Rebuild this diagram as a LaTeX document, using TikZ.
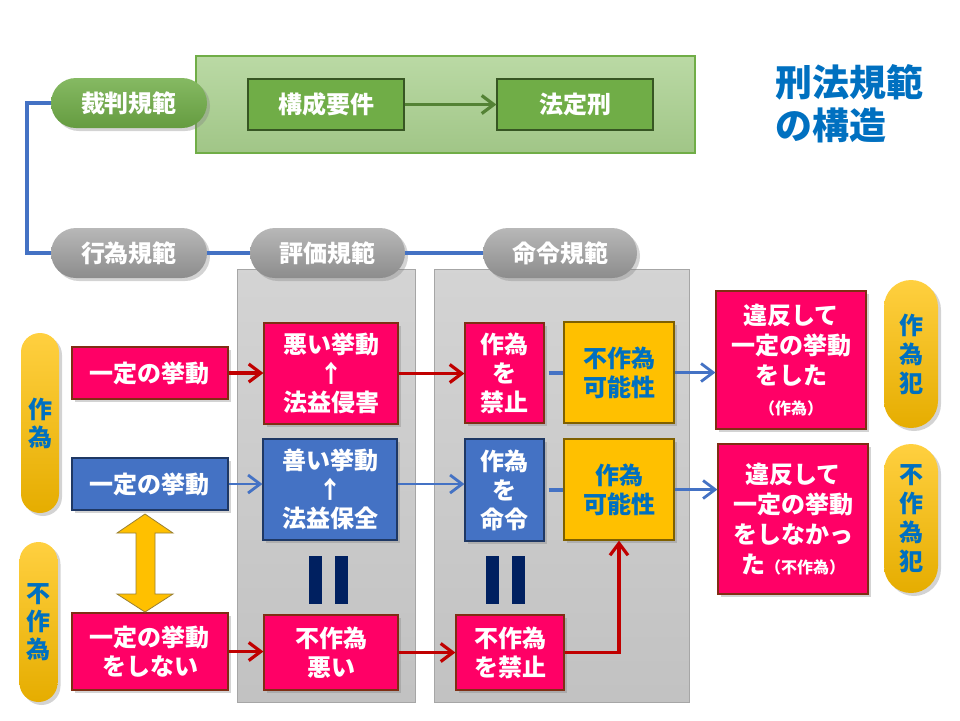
\documentclass[tikz,border=0pt]{standalone}
\usepackage{fontspec}
\setmainfont{Noto Sans CJK JP}
\usepackage{xcolor}
\usepackage{tikz}
\usetikzlibrary{arrows.meta,shadows}

\definecolor{hotpink}{HTML}{FF0066}
\definecolor{pinkedge}{HTML}{7F2E14}
\definecolor{boxblue}{HTML}{4472C4}
\definecolor{blueedge}{HTML}{1F3864}
\definecolor{gold}{HTML}{FFC000}
\definecolor{goldedge}{HTML}{7F6000}
\definecolor{textblue}{HTML}{0070C0}
\definecolor{arrowred}{HTML}{C00000}
\definecolor{navybar}{HTML}{002060}
\definecolor{panelgreen}{HTML}{A9D08E}
\definecolor{paneledge}{HTML}{70AD47}
\definecolor{boxgreen}{HTML}{70AD47}
\definecolor{greenedge}{HTML}{375623}
\definecolor{arrowgreen}{HTML}{548235}

\tikzset{
    wh/.style 2 args={minimum width=#1*0.5pt, minimum height=#2*0.5pt},
    shadowed/.style={drop shadow={opacity=0.35,shadow xshift=1.5pt,shadow yshift=-1.5pt}},
    plainbox/.style={shadowed, line width=0.6pt, align=center, inner sep=0pt},
    redbox/.style={plainbox, fill=hotpink, draw=pinkedge, text=white},
    bluebox/.style={plainbox, fill=boxblue, draw=blueedge, text=white},
    goldbox/.style={plainbox, fill=gold, draw=goldedge, text=textblue},
    greenbox/.style={align=center, inner sep=0pt, fill=boxgreen, draw=greenedge, line width=0.6pt, text=white},
    graypill/.style={shadowed, rounded corners=12.5pt, top color=black!28, bottom color=black!45, text=white, inner sep=0pt},
    goldpill/.style={shadowed, top color=gold!75!white, bottom color=gold!90!black, text=textblue, align=center, inner sep=0pt, font=\fontsize{12}{14}\selectfont\bfseries},
    column/.style={top color=black!17, bottom color=black!24, draw=black!35, line width=0.5pt},
    redarrow/.style={draw=arrowred, line width=1.6pt, -{Straight Barb[length=6pt,width=9pt]}},
    bluearrow/.style={draw=boxblue, line width=1.4pt, -{Straight Barb[length=6pt,width=9pt]}},
    blueline/.style={draw=boxblue, line width=2pt}
}

\begin{document}
\begin{tikzpicture}[x=0.5pt,y=-0.5pt, font=\fontsize{12}{14.5}\selectfont\bfseries]
    \useasboundingbox (0,0) rectangle (960,720);

    % Top panel
    \node[wh={499}{97}, top color=panelgreen!80!white, bottom color=panelgreen!95!black, draw=paneledge, line width=0.6pt] (panel) at (445.5,104.5) {};
    \node[greenbox, wh={156}{51}] (kosei) at (326,104.5) {構成要件};
    \node[greenbox, wh={156}{51}] (hotei) at (575,104.5) {法定刑};
    \draw[draw=arrowgreen, line width=1.6pt, -{Straight Barb[length=6pt,width=9pt]}] (kosei) -- (hotei);
    \node[shadowed, wh={156}{50}, rounded corners=12.5pt, top color=boxgreen!85!white, bottom color=boxgreen!90!black, text=white, inner sep=0pt] (court) at (129,103) {裁判規範};

    % Title
    \node[anchor=west, align=left, text=textblue, inner sep=0pt, font=\fontsize{18.5}{21.5}\selectfont\bfseries] (title) at (775,104) {刑法規範\\の構造};

    % Gray columns
    \node[column, wh={178}{433}] (colA) at (326,485.5) {};
    \node[column, wh={255}{433}] (colB) at (561.5,485.5) {};

    % Norms
    \node[graypill, wh={156}{50}] (act) at (129,253) {行為規範};
    \node[graypill, wh={155}{50}] (eval) at (327.5,253) {評価規範};
    \node[graypill, wh={154}{50}] (order) at (560,253) {命令規範};
    \draw[blueline] (court.west) -- ++(-24,0) |- (act.west);
    \draw[blueline] (act) -- (eval);
    \draw[blueline] (eval) -- (order);

    % Left side
    \node[goldpill, wh={38}{180}, rounded corners=9.5pt] (actpill) at (40,423) {作\\為};
    \node[goldpill, wh={38}{160}, rounded corners=9.5pt] (omitpill) at (38.5,622) {不\\作\\為};
    \node[redbox, wh={156}{52}] (act1) at (150,373) {一定の挙動};
    \node[bluebox, wh={156}{52}] (act2) at (150,484) {一定の挙動};
    \node[redbox, wh={156}{77}] (omit) at (150,651.5) {一定の挙動\\をしない};
    \draw[draw=goldedge!80, fill=gold, line width=0.4pt] (145,514) -- (173,533) -- (155,533) -- (155,594) -- (173,594) -- (145,612) -- (117,594) -- (136,594) -- (136,533) -- (117,533) -- cycle;

    % Evaluation column
    \node[redbox, wh={134}{101}] (bad) at (331,373.5) {悪い挙動\\↑\\法益侵害};
    \node[bluebox, wh={134}{101}] (good) at (330,489.5) {善い挙動\\↑\\法益保全};
    \node[redbox, wh={134}{75}] (badomit) at (331,652.5) {不作為\\悪い};

    % Order column
    \node[redbox, wh={79}{100}] (forbid) at (504.5,373) {作為\\を\\禁止};
    \node[bluebox, wh={79}{102}] (command) at (504.5,490) {作為\\を\\命令};
    \node[redbox, wh={108}{75}] (forbidomit) at (510,652.5) {不作為\\を禁止};
    \node[goldbox, wh={110}{101}] (possomit) at (619,372.5) {不作為\\可能性};
    \node[goldbox, wh={110}{101}] (possact) at (619,489.5) {作為\\可能性};

    % Equal signs
    \foreach \x in {309,335,486,512} {
        \fill[navybar] (\x,556) rectangle ++(13,48);
    }

    % Crimes
    \node[redbox, wh={150}{138}, font=\fontsize{12}{15}\selectfont\bfseries] (crime1) at (791,360) {違反して\\一定の挙動\\をした\\{\fontsize{8}{10}\selectfont （作為）}};
    \node[redbox, wh={150}{150}, font=\fontsize{12}{15}\selectfont\bfseries] (crime2) at (793,519) {違反して\\一定の挙動\\をしなかっ\\た{\fontsize{8}{10}\selectfont （不作為）}};
    \node[goldpill, wh={54}{148}, rounded corners=13.5pt, font=\fontsize{12}{14.5}\selectfont\bfseries] (actcrime) at (911,354) {作\\為\\犯};
    \node[goldpill, wh={54}{149}, rounded corners=13.5pt, font=\fontsize{12}{14.5}\selectfont\bfseries] (omitcrime) at (911,518.5) {不\\作\\為\\犯};

    % Arrows
    \draw[redarrow] (act1) -- (act1.east -| bad.west);
    \draw[redarrow] (bad) -- (bad.east -| forbid.west);
    \draw[bluearrow] (act2) -- (act2.east -| good.west);
    \draw[bluearrow] (good.east |- act2.east) -- (command.west |- act2.east);
    \draw[redarrow] (omit) -- (omit.east -| badomit.west);
    \draw[redarrow] (badomit) -- (badomit.east -| forbidomit.west);
    \draw[redarrow] (forbidomit.east) -| (possact.south);
    \draw[blueline, shorten <=2pt] (forbid.east) -- (forbid.east -| possomit.west);
    \draw[blueline, shorten <=2pt] (command.east |- possact.west) -- (possact.west);
    \draw[bluearrow] (possomit.east) -- (possomit.east -| crime1.west);
    \draw[bluearrow] (possact.east) -- (possact.east -| crime2.west);
\end{tikzpicture}
\end{document}
